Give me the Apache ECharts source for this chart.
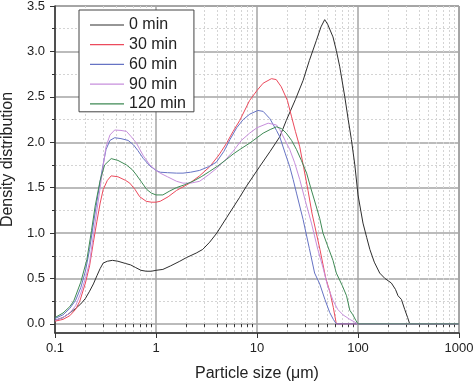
<!DOCTYPE html>
<html><head><meta charset="utf-8">
<script src="https://cdn.jsdelivr.net/npm/echarts@6/dist/echarts.min.js"></script>
<style>html,body{margin:0;padding:0;background:#fff}#c{width:474px;height:384px}</style>
</head><body><div id="c"></div>
<script>
const seriesNames = ['0 min', '30 min', '60 min', '90 min', '120 min'];
const seriesColors = ['#2e2e2e', '#ec4a5c', '#6673c4', '#c78fdc', '#3f8a55'];
const xMajorTicks = [0.1, 1, 10, 100, 1000];
const xMinorTicks = [0.2,0.3,0.4,0.5,0.6,0.7,0.8,0.9, 2,3,4,5,6,7,8,9, 20,30,40,50,60,70,80,90, 200,300,400,500,600,700,800,900];
const yMajorTicks = [0, 0.5, 1, 1.5, 2, 2.5, 3, 3.5];
const yMinorTicks = [0.25, 0.75, 1.25, 1.75, 2.25, 2.75, 3.25];

const d0 = [[0.1,0.04],[0.12,0.07],[0.14,0.12],[0.16,0.17],[0.18,0.22],[0.2,0.28],[0.22,0.36],[0.24,0.44],[0.26,0.53],[0.28,0.61],[0.3,0.67],[0.33,0.69],[0.37,0.70],[0.42,0.69],[0.5,0.665],[0.56,0.65],[0.63,0.62],[0.71,0.59],[0.8,0.58],[0.9,0.58],[1.0,0.59],[1.17,0.60],[1.4,0.64],[1.72,0.69],[2.0,0.73],[2.5,0.78],[2.9,0.82],[3.4,0.90],[4.0,1.0],[5.0,1.17],[6.7,1.39],[7.8,1.51],[10.6,1.73],[13.5,1.90],[16.8,2.06],[19.5,2.24],[24,2.47],[28.6,2.68],[33,2.9],[38.7,3.12],[43,3.27],[46.8,3.35],[50,3.30],[56.5,3.16],[61,3.01],[66,2.83],[74,2.5],[80,2.25],[86,2.03],[93,1.75],[100,1.42],[112,1.11],[122,0.95],[131,0.82],[145,0.68],[164,0.56],[185,0.50],[214,0.45],[235,0.38],[249,0.31],[269,0.27],[290,0.16],[310,0.07],[325,0],[1000,0]];
const d30 = [[0.1,0.03],[0.12,0.05],[0.14,0.09],[0.16,0.16],[0.176,0.25],[0.2,0.45],[0.22,0.64],[0.24,0.90],[0.26,1.13],[0.28,1.33],[0.3,1.48],[0.33,1.58],[0.36,1.63],[0.42,1.62],[0.5,1.58],[0.55,1.55],[0.62,1.48],[0.69,1.40],[0.8,1.35],[0.9,1.34],[1.0,1.34],[1.1,1.35],[1.32,1.40],[1.6,1.47],[2.16,1.55],[2.7,1.63],[3.4,1.73],[4.2,1.86],[5.0,1.99],[5.8,2.12],[6.75,2.24],[8.45,2.46],[10,2.57],[11.5,2.65],[13.9,2.70],[15.5,2.69],[17.4,2.61],[20,2.46],[22,2.28],[24,2.12],[26.5,1.95],[29,1.72],[32,1.47],[35,1.22],[38.7,1.0],[42,0.82],[48,0.50],[52.5,0.36],[57,0.18],[61,0],[1000,0]];
const d60 = [[0.1,0.06],[0.12,0.10],[0.14,0.17],[0.16,0.26],[0.18,0.40],[0.2,0.58],[0.22,0.82],[0.24,1.10],[0.26,1.35],[0.28,1.57],[0.3,1.76],[0.32,1.92],[0.35,2.02],[0.39,2.05],[0.45,2.04],[0.53,2.02],[0.6,1.97],[0.66,1.91],[0.75,1.82],[0.87,1.74],[1.0,1.69],[1.1,1.67],[1.3,1.665],[1.6,1.66],[1.85,1.66],[2.2,1.67],[2.7,1.69],[3.3,1.73],[3.96,1.78],[4.7,1.9],[5.4,2.03],[6.3,2.16],[7.3,2.25],[8.5,2.31],[10.2,2.35],[11.5,2.34],[13.4,2.26],[15.6,2.13],[16.8,2.06],[19,1.88],[21.1,1.73],[22.8,1.59],[24.6,1.44],[28.6,1.15],[33,0.83],[37.2,0.56],[41.8,0.44],[47,0.27],[52.5,0.125],[57,0.05],[61,0],[1000,0]];
const d90 = [[0.1,0.04],[0.12,0.07],[0.14,0.12],[0.16,0.20],[0.18,0.34],[0.2,0.50],[0.22,0.68],[0.24,0.98],[0.26,1.25],[0.28,1.50],[0.3,1.74],[0.32,1.95],[0.35,2.08],[0.39,2.135],[0.45,2.13],[0.51,2.12],[0.57,2.06],[0.64,1.99],[0.75,1.85],[0.87,1.75],[1.0,1.69],[1.1,1.66],[1.3,1.62],[1.6,1.57],[1.85,1.55],[2.2,1.55],[2.7,1.57],[3.3,1.64],[3.96,1.71],[4.8,1.80],[5.8,1.90],[7,2.02],[8.45,2.10],[10,2.16],[12.9,2.21],[15.6,2.19],[16.8,2.14],[19,2.02],[21.1,1.92],[23.5,1.78],[26.5,1.59],[30,1.36],[34.6,1.11],[40,0.82],[45,0.62],[50,0.42],[56.5,0.26],[63,0.16],[71,0.10],[83,0.05],[100,0],[1000,0]];
const d120 = [[0.1,0.07],[0.12,0.12],[0.14,0.19],[0.153,0.25],[0.18,0.46],[0.207,0.71],[0.23,1.03],[0.25,1.30],[0.28,1.58],[0.31,1.75],[0.36,1.82],[0.42,1.80],[0.51,1.75],[0.58,1.70],[0.64,1.64],[0.72,1.56],[0.81,1.48],[0.9,1.44],[1.0,1.42],[1.17,1.42],[1.35,1.46],[1.59,1.50],[1.9,1.53],[2.32,1.57],[2.8,1.62],[3.4,1.68],[4.1,1.74],[4.98,1.81],[5.8,1.87],[6.75,1.92],[8.45,1.99],[10,2.05],[11.5,2.10],[13.5,2.14],[15.6,2.17],[17.5,2.15],[19.5,2.10],[22,2.02],[24.6,1.92],[27.5,1.80],[31,1.66],[34,1.50],[38,1.32],[41.8,1.16],[45,1.0],[50,0.86],[56.5,0.70],[61,0.56],[70,0.42],[77,0.31],[83,0.15],[89,0.10],[95,0.04],[100,0],[1000,0]];
const seriesData = [d0, d30, d60, d90, d120];

const FONT = 'Liberation Sans, Arial, sans-serif';
const chart = echarts.init(document.getElementById('c'), null, {renderer: 'canvas'});
const option = {
  animation: false,
  backgroundColor: '#fff',
  grid: {left: 55, right: 15, top: 6, bottom: 51, show: true, borderColor: '#555', borderWidth: 1,
    backgroundColor: 'transparent', containLabel: false, outerBoundsMode: 'none'},
  legend: {
    orient: 'vertical', left: 79, top: 10,
    padding: [7, 8, 0, 11], itemWidth: 34, itemHeight: 14, itemGap: 3.7,
    icon: 'path://M0,0H34V1.2H0Z',
    borderColor: '#444', borderWidth: 1, backgroundColor: '#fff',
    textStyle: {fontSize: 16, color: '#222', fontFamily: FONT},
    data: seriesNames
  },
  xAxis: [
    {
      type: 'log', logBase: 10, min: 0.1, max: 1000, position: 'bottom',
      axisLine: {show: true, onZero: false, lineStyle: {color: '#333', width: 1.5}},
      axisTick: {show: true, customValues: xMajorTicks, length: 5, inside: false, lineStyle: {color: '#333'}},
      axisLabel: {customValues: xMajorTicks, margin: 9, fontSize: 13, color: '#222', fontFamily: FONT,
        formatter: v => String(+(+v).toPrecision(6))},
      splitLine: {show: true, lineStyle: {color: '#a4a4a4', width: 1.5}},
      minorTick: {show: false}, minorSplitLine: {show: false},
      name: 'Particle size (μm)', nameLocation: 'middle', nameGap: 33,
      nameTextStyle: {fontSize: 16, color: '#222', fontFamily: FONT}
    },
    {
      type: 'log', logBase: 10, min: 0.1, max: 1000, position: 'bottom', gridIndex: 0,
      axisLine: {show: false},
      axisTick: {show: true, customValues: xMinorTicks, length: 3, inside: false, lineStyle: {color: '#333'}},
      axisLabel: {show: false},
      splitLine: {show: true, lineStyle: {color: '#d4d4d4', width: 1, type: [2, 2]}}
    }
  ],
  yAxis: [
    {
      type: 'value', min: -0.1, max: 3.5,
      axisLine: {show: true, onZero: false, lineStyle: {color: '#333', width: 1.5}},
      axisTick: {show: true, customValues: yMajorTicks, length: 5, inside: false, lineStyle: {color: '#333'}},
      axisLabel: {customValues: yMajorTicks, margin: 10, fontSize: 13, color: '#222', fontFamily: FONT,
        formatter: v => (+v).toFixed(1)},
      splitLine: {show: true, lineStyle: {color: '#a4a4a4', width: 1.5}},
      name: 'Density distribution', nameLocation: 'middle', nameGap: 38, nameRotate: 90,
      nameTextStyle: {fontSize: 16, color: '#222', fontFamily: FONT, padding: [0, 0, 0, 20]}
    },
    {
      type: 'value', min: -0.1, max: 3.5, position: 'left', gridIndex: 0,
      axisLine: {show: false},
      axisTick: {show: true, customValues: yMinorTicks, length: 3, inside: false, lineStyle: {color: '#333'}},
      axisLabel: {show: false},
      splitLine: {show: true, lineStyle: {color: '#d4d4d4', width: 1, type: [2, 2]}}
    }
  ],
  series: seriesNames.map((n, i) => ({
    name: n, type: 'line', xAxisIndex: 0, yAxisIndex: 0,
    data: seriesData[i], symbol: 'none', showSymbol: false, smooth: false,
    lineStyle: {width: 1, color: seriesColors[i]}, itemStyle: {color: seriesColors[i]},
    z: 3 + i
  }))
};
chart.setOption(option);
</script></body></html>
